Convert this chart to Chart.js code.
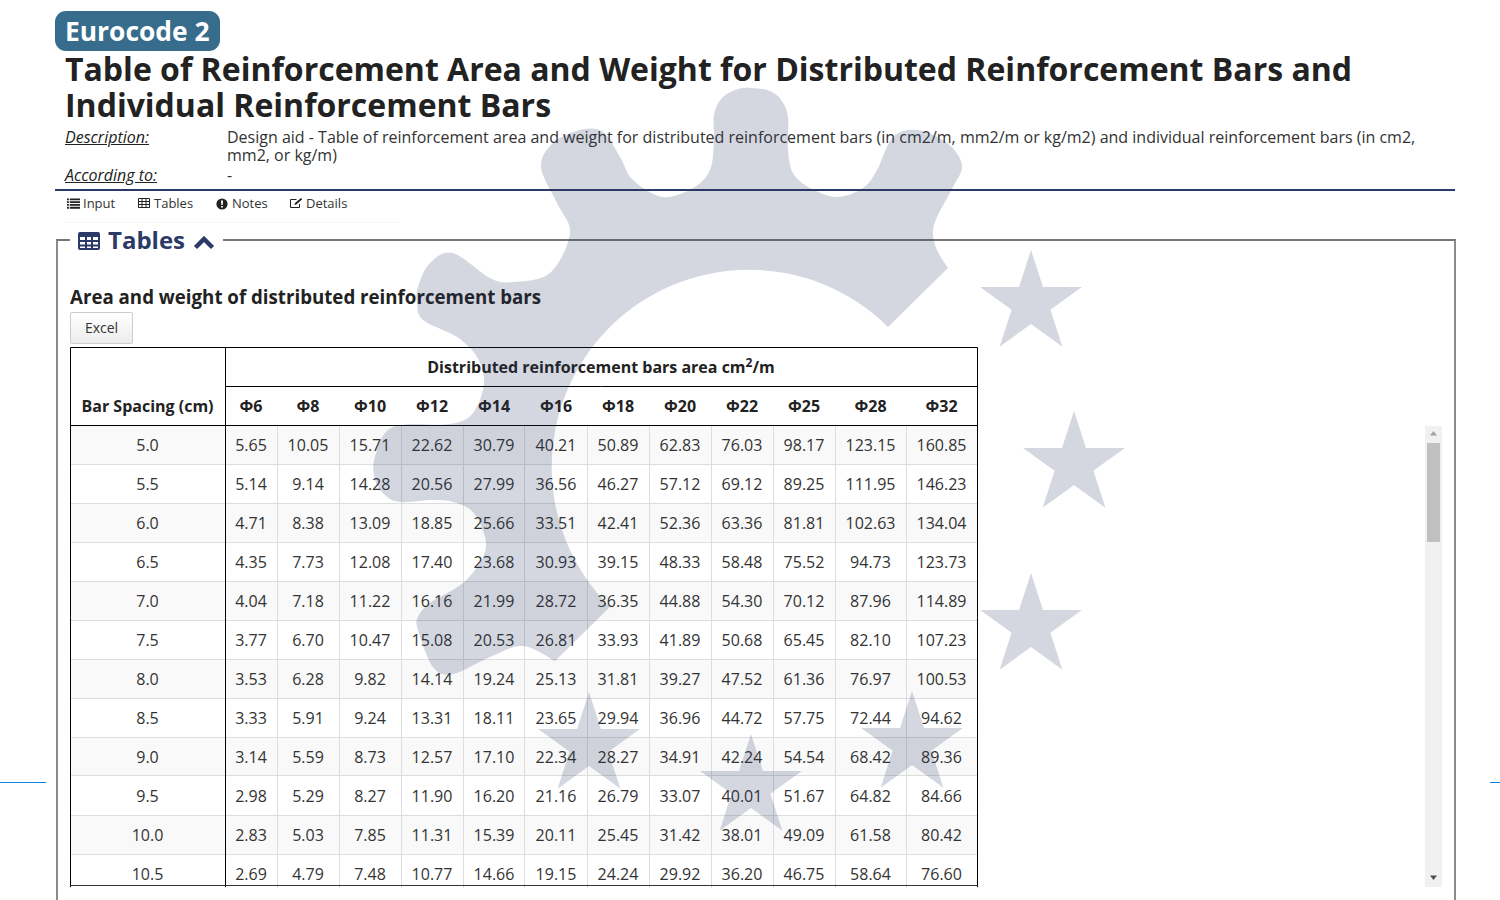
<!DOCTYPE html>
<html>
<head>
<meta charset="utf-8">
<title>Table of Reinforcement Area and Weight</title>
<script src="https://cdn.jsdelivr.net/npm/chart.js@4"></script>
<style>
  html, body { margin: 0; padding: 0; background: #fff; overflow: hidden; }
  body { width: 1500px; height: 900px; position: relative; font-family: "Open Sans", sans-serif; color: #333; }
  .abs { position: absolute; white-space: nowrap; }
  #badge { left: 55px; top: 11px; width: 165px; height: 40px; background: #386c8c; border-radius: 11px; color: #fff;
           font-weight: 700; font-size: 26.4px; line-height: 40px; text-indent: 10px; }
  #title { left: 65px; top: 51px; font-weight: 700; font-size: 32px; line-height: 36px; color: #222; }
  .lbl { left: 65px; font-size: 16px; line-height: 18px; font-style: italic; text-decoration: underline; color: #222; }
  .txt { left: 227px; font-size: 16px; line-height: 18px; color: #333; }
  #rule { left: 55px; top: 189px; width: 1400px; height: 2px; background: #2b3a67; }
  .tab { top: 194px; font-size: 13px; line-height: 18px; color: #333; }
  #tabline { left: 65px; top: 222px; width: 335px; height: 1px; background: #f6f6f6; }
  #fieldset { left: 56px; top: 239px; width: 1396px; height: 700px; border: 2px solid #8a8a8a; border-top-color: #777; }
  #legendgap { left: 70px; top: 230px; width: 153px; height: 20px; background: #fff; }
  #legend { left: 108px; top: 223px; font-size: 24px; line-height: 34px; font-weight: 700; color: #2b3a67; }
  #subtitle { left: 70px; top: 283px; font-size: 18.7px; line-height: 28px; font-weight: 700; color: #222; }
  #excel { left: 70px; top: 312px; width: 61px; height: 30px; border: 1px solid #ccc; border-radius: 2px; font-size: 14px;
           line-height: 30px; text-align: center; color: #333; background: linear-gradient(#fff, #ececec); }
  #table-chart { position: absolute; left: 70px; top: 347px; }
  .blue { top: 782px; height: 1px; background: #0a84e0; }
  #track { left: 1425px; top: 426px; width: 17px; height: 461px; background: #f1f1f1; }
  #thumb { left: 1427px; top: 443px; width: 13px; height: 99px; background: #c1c1c1; }
  #overlay { position: absolute; left: 0; top: 0; pointer-events: none; z-index: 5; }
</style>
</head>
<body>
<div class="abs" id="badge">Eurocode 2</div>
<div class="abs" id="title">Table of Reinforcement Area and Weight for Distributed Reinforcement Bars and<br>Individual Reinforcement Bars</div>
<div class="abs lbl" style="top:128px">Description:</div>
<div class="abs txt" style="top:128px">Design aid - Table of reinforcement area and weight for distributed reinforcement bars (in cm2/m, mm2/m or kg/m2) and individual reinforcement bars (in cm2,<br>mm2, or kg/m)</div>
<div class="abs lbl" style="top:166px">According to:</div>
<div class="abs txt" style="top:166px">-</div>
<div class="abs" id="rule"></div>

<svg class="abs" style="left:67px;top:198px" width="13" height="12" viewBox="0 0 14 12" fill="#222"><path d="M0 1h2v2H0zM3 1h11v2H3zM0 4h2v2H0zM3 4h11v2H3zM0 7h2v2H0zM3 7h11v2H3zM0 10h2v2H0zM3 10h11v2H3z" transform="translate(0,-1)"/></svg>
<div class="abs tab" style="left:83px">Input</div>
<svg class="abs" style="left:138px;top:198px" width="12" height="10" viewBox="0 0 12 10" fill="none" stroke="#222"><path d="M.5.5h11v9H.5zM.5 3.500h11M.5 6.500h11M4 .5v9M8 .5v9"/></svg>
<div class="abs tab" style="left:154px">Tables</div>
<svg class="abs" style="left:216px;top:198px" width="12" height="12" viewBox="0 0 12 12"><circle cx="6" cy="6" r="5.600" fill="#222"/><path d="M5 2.500h2l-.3 4.500H5.300zM5.100 8h1.800v1.600H5.100z" fill="#fff"/></svg>
<div class="abs tab" style="left:232px">Notes</div>
<svg class="abs" style="left:290px;top:197px" width="13" height="12" viewBox="0 0 13 12" fill="none" stroke="#222"><path d="M9.500 7v3.500h-9v-8h6"/><path d="M4.500 8l.5-2 6-5 1.300 1.300-6 5.200z" fill="#222" stroke="none"/></svg>
<div class="abs tab" style="left:306px">Details</div>
<div class="abs" id="tabline"></div>

<div class="abs" id="fieldset"></div>
<div class="abs" id="legendgap"></div>
<svg class="abs" style="left:78px;top:232px" width="22" height="18" viewBox="0 0 22 18" fill="#2b3a67"><path fill-rule="evenodd" d="M2 0h18a2 2 0 0 1 2 2v14a2 2 0 0 1-2 2H2a2 2 0 0 1-2-2V2a2 2 0 0 1 2-2zM2 5v3h5V5zm7 0v3h4V5zm6 0v3h5V5zM2 10v2.500h5V10zm7 0v2.500h4V10zm6 0v2.500h5V10zM2 14.500v1.500h5v-1.500zm7 0v1.500h4v-1.500zm6 0v1.500h5v-1.500z"/></svg>
<div class="abs" id="legend">Tables</div>
<svg class="abs" style="left:193px;top:236px" width="22" height="14" viewBox="0 0 22 14"><path d="M2.500 11.500 11 3l8.500 8.500" fill="none" stroke="#2b3a67" stroke-width="4.500"/></svg>

<div class="abs" id="subtitle">Area and weight of distributed reinforcement bars</div>
<div class="abs" id="excel">Excel</div>
<canvas id="table-chart" width="908" height="541"></canvas>

<div class="abs" id="track"></div>
<div class="abs" id="thumb"></div>
<svg class="abs" style="left:1429px;top:431px" width="9" height="6"><path d="M4.500 0 8 4.500H1z" fill="#a3a3a3"/></svg>
<svg class="abs" style="left:1429px;top:875px" width="9" height="6"><path d="M1 0.500h7L4.500 5z" fill="#505050"/></svg>
<div class="abs blue" style="left:0;width:46px"></div>
<div class="abs blue" style="left:1490px;width:10px"></div>

<svg id="overlay" width="1500" height="900"></svg>

<script>
const spacing = [5.0, 5.5, 6.0, 6.5, 7.0, 7.5, 8.0, 8.5, 9.0, 9.5, 10.0, 10.5];
const barLabels = ['Φ6', 'Φ8', 'Φ10', 'Φ12', 'Φ14', 'Φ16', 'Φ18', 'Φ20', 'Φ22', 'Φ25', 'Φ28', 'Φ32'];
const phi6 = [5.65, 5.14, 4.71, 4.35, 4.04, 3.77, 3.53, 3.33, 3.14, 2.98, 2.83, 2.69];
const phi8 = [10.05, 9.14, 8.38, 7.73, 7.18, 6.70, 6.28, 5.91, 5.59, 5.29, 5.03, 4.79];
const phi10 = [15.71, 14.28, 13.09, 12.08, 11.22, 10.47, 9.82, 9.24, 8.73, 8.27, 7.85, 7.48];
const phi12 = [22.62, 20.56, 18.85, 17.40, 16.16, 15.08, 14.14, 13.31, 12.57, 11.90, 11.31, 10.77];
const phi14 = [30.79, 27.99, 25.66, 23.68, 21.99, 20.53, 19.24, 18.11, 17.10, 16.20, 15.39, 14.66];
const phi16 = [40.21, 36.56, 33.51, 30.93, 28.72, 26.81, 25.13, 23.65, 22.34, 21.16, 20.11, 19.15];
const phi18 = [50.89, 46.27, 42.41, 39.15, 36.35, 33.93, 31.81, 29.94, 28.27, 26.79, 25.45, 24.24];
const phi20 = [62.83, 57.12, 52.36, 48.33, 44.88, 41.89, 39.27, 36.96, 34.91, 33.07, 31.42, 29.92];
const phi22 = [76.03, 69.12, 63.36, 58.48, 54.30, 50.68, 47.52, 44.72, 42.24, 40.01, 38.01, 36.20];
const phi25 = [98.17, 89.25, 81.81, 75.52, 70.12, 65.45, 61.36, 57.75, 54.54, 51.67, 49.09, 46.75];
const phi28 = [123.15, 111.95, 102.63, 94.73, 87.96, 82.10, 76.97, 72.44, 68.42, 64.82, 61.58, 58.64];
const phi32 = [160.85, 146.23, 134.04, 123.73, 114.89, 107.23, 100.53, 94.62, 89.36, 84.66, 80.42, 76.60];
const areas = [phi6, phi8, phi10, phi12, phi14, phi16, phi18, phi20, phi22, phi25, phi28, phi32];

// column boundaries of the table, x axis runs in px from the left edge
const colEdges = [0, 155, 207, 269, 331, 393, 455, 517, 579, 641, 703, 765, 836, 907];
const rowHeight = 39;
const colMid = i => (colEdges[i] + colEdges[i + 1]) / 2;
const textDrop = 2; // canvas middle baseline sits a little high for this font

const cellFont = '16px "Open Sans"';
const headFont = 'bold 16px "Open Sans"';

const tablePlugin = {
  id: 'tablePlugin',
  beforeDraw(chart) {
    const { ctx, scales: { x, y }, width, height } = chart;
    ctx.save();
    ctx.fillStyle = '#fff';
    ctx.fillRect(0, 0, width, height);
    ctx.fillStyle = '#f9f9f9';
    spacing.forEach((s, i) => {
      if (i % 2 === 0) {
        ctx.fillRect(x.getPixelForValue(0), y.getPixelForValue(i), x.getPixelForValue(907), rowHeight);
      }
    });
    ctx.restore();
  },
  beforeDatasetsDraw(chart) {
    const { ctx, scales: { x, y } } = chart;
    const px = v => Math.round(x.getPixelForValue(v)) + 0.5;
    const py = v => Math.round(y.getPixelForValue(v)) + 0.5;
    ctx.save();
    // header band sits on top of the body grid
    ctx.fillStyle = '#fff';
    ctx.fillRect(0, 0, px(907), py(0));
    ctx.strokeStyle = '#000';
    ctx.lineWidth = 1;
    ctx.beginPath();
    ctx.moveTo(px(0), py(-2)); ctx.lineTo(px(907), py(-2));
    ctx.moveTo(px(155), py(-1)); ctx.lineTo(px(907), py(-1));
    ctx.moveTo(px(0), py(0)); ctx.lineTo(px(907), py(0));
    [0, 155, 907].forEach(e => { ctx.moveTo(px(e), py(-2)); ctx.lineTo(px(e), 540); });
    ctx.stroke();
    ctx.strokeStyle = '#333';
    ctx.beginPath();
    ctx.moveTo(px(0), 538.5); ctx.lineTo(px(907), 538.5);
    ctx.stroke();
    ctx.restore();
  },
  afterDatasetsDraw(chart) {
    const { ctx, scales: { x, y } } = chart;
    ctx.save();
    ctx.textAlign = 'center';
    ctx.textBaseline = 'middle';
    ctx.fillStyle = '#333';
    ctx.font = cellFont;
    chart.data.datasets.forEach((ds, d) => {
      chart.getDatasetMeta(d).data.forEach((pt, i) => {
        ctx.fillText(ds.labels[i], pt.x, pt.y + textDrop);
      });
    });
    ctx.fillStyle = '#222';
    ctx.font = headFont;
    ctx.fillText('Bar Spacing (cm)', x.getPixelForValue(colMid(0)), y.getPixelForValue(-0.5) + textDrop);
    barLabels.forEach((l, i) => {
      ctx.fillText(l, x.getPixelForValue(colMid(i + 1)), y.getPixelForValue(-0.5) + textDrop);
    });
    // spanning title with its superscript
    const a = 'Distributed reinforcement bars area cm', b = '2', c = '/m';
    const wa = ctx.measureText(a).width, wc = ctx.measureText(c).width;
    ctx.font = 'bold 12px "Open Sans"';
    const wb = ctx.measureText(b).width;
    const left = x.getPixelForValue((155 + 907) / 2) - (wa + wb + wc) / 2;
    const ty = y.getPixelForValue(-1.5) + textDrop;
    ctx.textAlign = 'left';
    ctx.fillText(b, left + wa, ty - 5);
    ctx.font = headFont;
    ctx.fillText(a, left, ty);
    ctx.fillText(c, left + wa + wb, ty);
    ctx.restore();
  }
};

const rowPoints = col => spacing.map((s, i) => ({ x: colMid(col), y: i + 0.5 }));
const datasets = [{ data: rowPoints(0), labels: spacing.map(v => v.toFixed(1)), pointRadius: 0, showLine: false }]
  .concat(areas.map((vals, c) => ({
    data: rowPoints(c + 1),
    labels: vals.map(v => v.toFixed(2)),
    pointRadius: 0,
    showLine: false
  })));

const canvas = document.getElementById('table-chart');
const ctx2d = canvas.getContext('2d', { alpha: false });

new Chart(ctx2d, {
  type: 'scatter',
  data: { datasets },
  plugins: [tablePlugin],
  options: {
    responsive: false,
    animation: false,
    devicePixelRatio: 1,
    events: [],
    layout: { padding: 0 },
    plugins: { legend: { display: false }, tooltip: { enabled: false } },
    scales: {
      x: {
        type: 'linear', min: 0, max: 908,
        border: { display: false },
        ticks: { display: false },
        afterBuildTicks: s => { s.ticks = colEdges.map(value => ({ value })); },
        grid: { color: '#ddd', lineWidth: 1, drawTicks: false }
      },
      y: {
        type: 'linear', reverse: true, min: -2, max: -2 + 541 / rowHeight,
        border: { display: false },
        ticks: { display: false },
        afterBuildTicks: s => { s.ticks = spacing.map((v, i) => ({ value: i })); },
        grid: { color: '#ddd', lineWidth: 1, drawTicks: false }
      }
    }
  }
});

// gear and stars of the logo, drawn over the page like a translucent stamp
const gearEdge = [[555,661],[523,646],[490,657],[453,674],[433,667],[418,630],[418,617],[430,603],[463,583],[483,557],[485,537],[473,512],[453,502],[433,500],[400,502],[385,495],[375,480],[375,457],[393,427],[450,424],[473,413],[484,383],[477,357],[457,337],[423,320],[417,303],[418,287],[430,263],[453,253],[490,278],[513,282],[550,273],[570,233],[557,203],[541,167],[553,143],[580,130],[603,132],[620,157],[633,180],[663,197],[693,188],[710,170],[714,140],[714,115],[722,98],[738,89],[752,88],[770,91],[782,101],[788,118],[788,150],[793,173],[810,188],[837,197],[863,188],[877,170],[893,137],[917,130],[947,143],[962,165],[953,187],[937,217],[933,233],[937,250],[948,268]];
const starCentres = [[1031,303.5],[1074,464.5],[1031,626.5],[589,745.5],[751,787.5],[912,744.5]];
const stamp = 'rgba(40,55,95,0.2)';

// catmull-rom through the traced edge so the teeth stay round
let d = 'M' + gearEdge[0].join(' ');
for (let i = 0; i < gearEdge.length - 1; i++) {
  const p0 = gearEdge[Math.max(i - 1, 0)], p1 = gearEdge[i], p2 = gearEdge[i + 1];
  const p3 = gearEdge[Math.min(i + 2, gearEdge.length - 1)];
  const c1 = [p1[0] + (p2[0] - p0[0]) / 6, p1[1] + (p2[1] - p0[1]) / 6];
  const c2 = [p2[0] - (p3[0] - p1[0]) / 6, p2[1] - (p3[1] - p1[1]) / 6];
  d += ' C' + c1.join(' ') + ' ' + c2.join(' ') + ' ' + p2.join(' ');
}
d += ' L888 327 A197 197 0 0 0 610 607 Z';
let marks = '<path d="' + d + '" fill="' + stamp + '"/>';
starCentres.forEach(([cx, cy]) => {
  const pts = [];
  for (let k = 0; k < 10; k++) {
    const r = k % 2 ? 53.5 * 0.382 : 53.5, a = -Math.PI / 2 + k * Math.PI / 5;
    pts.push((cx + r * Math.cos(a)).toFixed(1) + ',' + (cy + r * Math.sin(a)).toFixed(1));
  }
  marks += '<polygon points="' + pts.join(' ') + '" fill="' + stamp + '"/>';
});
document.getElementById('overlay').innerHTML = marks;
</script>
</body>
</html>
